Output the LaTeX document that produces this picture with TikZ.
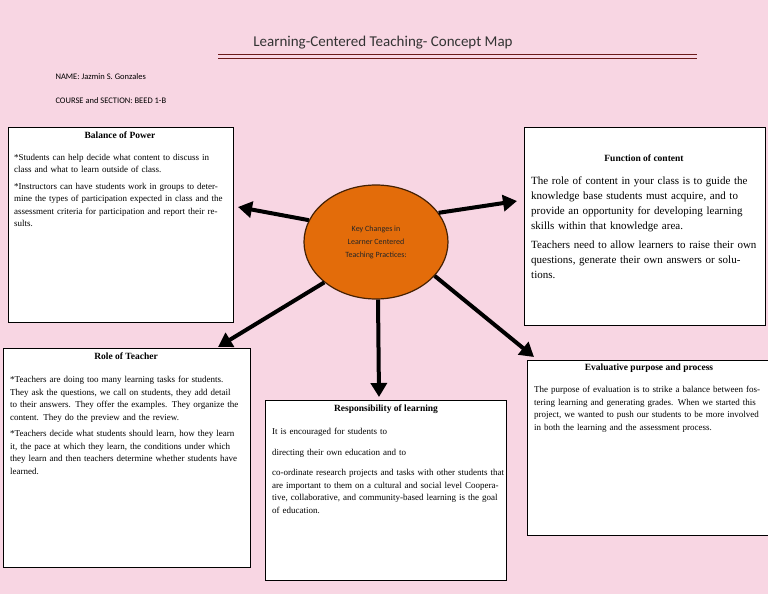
\documentclass[tikz,border=0pt]{standalone}
\usepackage{fontspec}
\setmainfont{Liberation Serif}
\newfontfamily\calib{Carlito}
\usetikzlibrary{arrows.meta,shapes.geometric}
\definecolor{bgpink}{HTML}{F8D6E3}
\definecolor{darkred}{HTML}{6B1A1A}
\definecolor{orng}{HTML}{E36C0A}
\tikzset{
 box/.style={draw=black,line width=1pt,fill=white,anchor=north west,inner sep=0pt},
 txt/.style={anchor=north west,align=left,font=\fontsize{9}{12.5}\selectfont,inner sep=0pt},
 head/.style={anchor=north,font=\bfseries\fontsize{9.5}{11}\selectfont,inner sep=0pt},
 arr/.style={line width=4pt,-{Triangle[length=14pt,width=16pt]}}
}
\begin{document}
\begin{tikzpicture}[x=1pt,y=-1pt]
\fill[bgpink] (0,0) rectangle (768,594);
\useasboundingbox (0,0) rectangle (768,594);
\node[font=\calib\fontsize{15}{18}\selectfont,text=black!80] (title) at (383,43) {Learning-Centered Teaching- Concept Map};
\draw[darkred,line width=1.6pt] (218,54.5) -- (697,54.5);
\draw[darkred,line width=0.6pt] (218,58) -- (697,58);
\node[anchor=west,font=\calib\fontsize{8.5}{10}\selectfont] (name) at (52,77) {NAME: Jazmin S. Gonzales};
\node[anchor=west,font=\calib\fontsize{8.5}{10}\selectfont] (course) at (52,101) {COURSE and SECTION: BEED 1-B};
% boxes
\draw[box] (8,127) rectangle (233,322);
\node[head] (h1) at (120,132) {Balance of Power};
\node[txt,text width=215] (t1) at (14,154) {*Students can help decide what content to discuss in class and what to learn outside of class.\\[4pt]*Instructors can have students work in groups to determine the types of participation expected in class and the assessment criteria for participation and report their results.};
\draw[box] (524,127) rectangle (765,325);
\node[head] (h2) at (644,155) {Function of content};
\node[txt,text width=228,font=\fontsize{11}{15}\selectfont] (t2) at (531,177) {The role of content in your class is to guide the knowledge base students must acquire, and to provide an opportunity for developing learning skills within that knowledge area.\\[4pt]Teachers need to allow learners to raise their own questions, generate their own answers or solutions.};
\draw[box] (3,348) rectangle (250,567);
\node[head] (h3) at (126,353) {Role of Teacher};
\node[txt,text width=235] (t3) at (10,376) {*Teachers are doing too many learning tasks for students. They ask the questions, we call on students, they add detail to their answers. They offer the examples. They organize the content. They do the preview and the review.\\[4pt]*Teachers decide what students should learn, how they learn it, the pace at which they learn, the conditions under which they learn and then teachers determine whether students have learned.};
\draw[box] (265,400) rectangle (506,580);
\node[head] (h4) at (386,405) {Responsibility of learning};
\node[txt,text width=233] (t4) at (272,428) {It is encouraged for students to\\[8pt]directing their own education and to\\[8pt]co-ordinate research projects and tasks with other students that are important to them on a cultural and social level Cooperative, collaborative, and community-based learning is the goal of education.};
\draw[box] (527,360) rectangle (768,535);
\node[head] (h5) at (649,364) {Evaluative purpose and process};
\node[txt,text width=232] (t5) at (534,386) {The purpose of evaluation is to strike a balance between fostering learning and generating grades. When we started this project, we wanted to push our students to be more involved in both the learning and the assessment process.};
% ellipse
\node[ellipse,draw=black!70!orng,line width=1.2pt,fill=orng,minimum width=144,minimum height=114,align=center,font=\calib\fontsize{8}{13}\selectfont,text=black!85] (c) at (376,242) {Key Changes in\\Learner Centered\\Teaching Practices:};
\coordinate (e1) at (238,207);
\coordinate (e2) at (517,201);
\coordinate (e3) at (218,347);
\coordinate (e4) at (379,397);
\coordinate (e5) at (534,357);
\draw[arr] (c.162) -- (e1);
\draw[arr] (c.25) -- (e2);
\draw[arr] (c.218) -- (e3);
\draw[arr] (c.272) -- (e4);
\draw[arr] (c.330) -- (e5);
\end{tikzpicture}
\end{document}
